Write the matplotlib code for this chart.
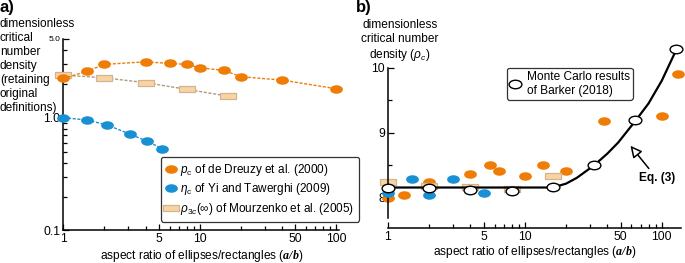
import matplotlib

matplotlib.use("Agg")
import matplotlib.pyplot as plt
from matplotlib.lines import Line2D
from matplotlib.path import Path
from matplotlib.ticker import FixedFormatter, FixedLocator, NullFormatter
from matplotlib.transforms import Affine2D

plt.rcParams["font.family"] = ["Liberation Sans", "DejaVu Sans"]
plt.rcParams["mathtext.fontset"] = "custom"
plt.rcParams["mathtext.rm"] = "Liberation Sans"
plt.rcParams["mathtext.it"] = "Liberation Sans:italic"
plt.rcParams["mathtext.bf"] = "Liberation Sans:bold"
plt.rcParams["mathtext.bfit"] = "Liberation Serif:italic:bold"

# panel a: values as published (different definitions)
a_dreuzy_x = [1, 1.5, 2, 4, 6, 8, 10, 15, 20, 40, 100]
a_dreuzy_y = [2.22, 2.58, 2.96, 3.12, 3.02, 2.96, 2.76, 2.62, 2.30, 2.15, 1.80]
a_yi_x = [1, 1.5, 2.1, 3.1, 4.1, 5.3]
a_yi_y = [1.0, 0.95, 0.86, 0.71, 0.62, 0.53]
a_mour_x = [1, 2, 4, 8, 16]
a_mour_y = [2.38, 2.25, 2.04, 1.78, 1.55]

# panel b: converted to rho_c
b_dreuzy_x = [1, 1.31, 2, 4, 5.6, 6.5, 10, 13.5, 20, 38, 100, 132]
b_dreuzy_y = [8.0, 8.04, 8.24, 8.36, 8.51, 8.42, 8.34, 8.51, 8.42, 9.18, 9.26, 9.90]
b_yi_x = [1, 1.5, 2, 3, 5]
b_yi_y = [8.07, 8.29, 8.05, 8.29, 8.07]
b_mour_x = [1, 2, 4, 8, 16]
b_mour_y = [8.25, 8.19, 8.17, 8.14, 8.33]
b_barker_x = [1, 2, 4, 8, 16, 32, 64, 128]
b_barker_y = [8.16, 8.15, 8.12, 8.10, 8.17, 8.50, 9.20, 10.28]
b_eq3_x = [1, 16, 20, 24, 32, 40, 48, 64, 80, 100, 128]
b_eq3_y = [8.16, 8.16, 8.22, 8.31, 8.50, 8.68, 8.85, 9.18, 9.45, 9.80, 10.28]

x_major = [1, 5, 10, 50, 100]
x_labels = ["1", "5", "10", "50", "100"]
x_minor = [2, 3, 4, 6, 7, 8, 9, 20, 30, 40, 60, 70, 80, 90]

ORANGE = "#ef7d05"
BLUE = "#1a90d4"
TAN_FACE = "#f8d3a4"
TAN_EDGE = "#d2b48e"
TAN_LINE = "#ad9a7c"

ellipse = Path.unit_circle().transformed(Affine2D().scale(1.5, 1.0))
rect = Path([(-1.25, -0.5), (1.25, -0.5), (1.25, 0.5), (-1.25, 0.5), (-1.25, -0.5)], closed=True)
dash = (0, (2.2, 1.2))

W, H = 685, 263
FS = 8.6


def fpos(x, y):
    return x / W, 1 - y / H


def style_axis(ax):
    for s in ("top", "right"):
        ax.spines[s].set_visible(False)
    for s in ("left", "bottom"):
        ax.spines[s].set_linewidth(1.1)
    ax.tick_params(which="both", direction="in", width=0.9, labelsize=8.8, pad=2)
    ax.tick_params(which="major", length=4)
    ax.tick_params(which="minor", length=2.8)
    ax.set_xscale("log")
    ax.xaxis.set_major_locator(FixedLocator(x_major))
    ax.xaxis.set_major_formatter(FixedFormatter(x_labels))
    ax.xaxis.set_minor_locator(FixedLocator(x_minor))
    ax.xaxis.set_minor_formatter(NullFormatter())


fig = plt.figure(figsize=(W / 100, H / 100), dpi=100)

# ---- panel a ----
ax = fig.add_axes([0.0924, 0.1236, 0.4029, 0.7293])
style_axis(ax)
ax.set_yscale("log")
ax.set_xlim(1, 105)
ax.set_ylim(0.1, 5)
ax.yaxis.set_major_locator(FixedLocator([0.1, 1, 5]))
ax.yaxis.set_major_formatter(FixedFormatter(["0.1", "1.0", "5.0"]))
ax.yaxis.set_minor_locator(FixedLocator([0.2, 0.3, 0.4, 0.5, 0.6, 0.7, 0.8, 0.9, 2, 3, 4]))
ax.yaxis.set_minor_formatter(NullFormatter())
ax.get_yticklabels()[2].set_fontsize(6)

ax.plot(a_mour_x, a_mour_y, color=TAN_LINE, lw=1.0, ls=dash, marker=rect, ms=11,
        mfc=TAN_FACE, mec=TAN_EDGE, mew=0.9, clip_on=False, zorder=3)
ax.plot(a_dreuzy_x, a_dreuzy_y, color=ORANGE, lw=1.0, ls=dash, marker=ellipse, ms=9.2,
        mfc=ORANGE, mec=ORANGE, mew=0, clip_on=False, zorder=4)
ax.plot(a_yi_x, a_yi_y, color=BLUE, lw=1.0, ls=dash, marker=ellipse, ms=9.2,
        mfc=BLUE, mec=BLUE, mew=0, clip_on=False, zorder=4)

handles = [
    Line2D([], [], ls="none", marker=ellipse, ms=9.2, mfc=ORANGE, mew=0),
    Line2D([], [], ls="none", marker=ellipse, ms=9.2, mfc=BLUE, mew=0),
    Line2D([], [], ls="none", marker=rect, ms=11, mfc=TAN_FACE, mec=TAN_EDGE, mew=0.9),
]
labels = [
    r"$p_\mathrm{c}$ of de Dreuzy et al. (2000)",
    r"$\eta_\mathrm{c}$ of Yi and Tawerghi (2009)",
    r"$\rho_{3c}(\infty)$ of Mourzenko et al. (2005)",
]
leg = ax.legend(handles, labels, loc="upper left", bbox_to_anchor=fpos(161, 157),
                bbox_transform=fig.transFigure, fontsize=8.5, frameon=True, fancybox=True,
                handlelength=0.9, handletextpad=0.35, labelspacing=0.3, borderpad=0.4,
                borderaxespad=0)
leg.get_frame().set_edgecolor("black")
leg.get_frame().set_linewidth(0.9)

ax.set_xlabel(r"aspect ratio of ellipses/rectangles ($\mathbfit{a/b}$)", fontsize=FS, labelpad=2)
fig.text(*fpos(0, 0), "a)", fontsize=12, fontweight="bold", va="top", ha="left")
fig.text(*fpos(0, 18), "dimensionless\ncritical\nnumber\ndensity\n(retaining\noriginal\ndefinitions)",
         fontsize=8.6, va="top", ha="left", linespacing=1.22)

# ---- panel b ----
bx = fig.add_axes([0.5664, 0.173, 0.4277, 0.570])
style_axis(bx)
bx.set_xlim(1, 138)
bx.set_ylim(7.7, 10)
bx.spines["bottom"].set_position(("outward", 7.5))
bx.yaxis.set_major_locator(FixedLocator([8, 9, 10]))
bx.yaxis.set_major_formatter(FixedFormatter(["8", "9", "10"]))
bx.yaxis.set_minor_locator(FixedLocator([8.5, 9.5]))
bx.yaxis.set_minor_formatter(NullFormatter())

bx.plot(b_dreuzy_x, b_dreuzy_y, ls="none", marker=ellipse, ms=9.2, mfc=ORANGE, mew=0,
        clip_on=False, zorder=2)
bx.plot(b_mour_x, b_mour_y, ls="none", marker=rect, ms=11, mfc=TAN_FACE, mec=TAN_EDGE,
        mew=0.9, clip_on=False, zorder=2)
bx.plot(b_yi_x, b_yi_y, ls="none", marker=ellipse, ms=9.2, mfc=BLUE, mew=0,
        clip_on=False, zorder=3)
bx.plot(b_eq3_x, b_eq3_y, color="black", lw=1.6, clip_on=False, zorder=4)
bx.plot(b_barker_x, b_barker_y, ls="none", marker=ellipse, ms=9.2, mfc="white", mec="black",
        mew=1.0, clip_on=False, zorder=5)

bx.annotate("Eq. (3)", xy=(59, 8.80), xytext=(92, 8.30), ha="center", va="center",
            fontsize=FS, fontweight="bold",
            arrowprops=dict(arrowstyle="-|>,head_length=0.8,head_width=0.4", fc="white",
                            ec="black", lw=1.1, shrinkA=1, shrinkB=0))

bleg = bx.legend([Line2D([], [], ls="none", marker=ellipse, ms=9.2, mfc="white", mec="black", mew=1.0)],
                 ["Monte Carlo results\nof Barker (2018)"], loc="upper left",
                 bbox_to_anchor=fpos(507, 68), bbox_transform=fig.transFigure, fontsize=FS,
                 frameon=True, fancybox=True, handlelength=0.9, handletextpad=0.5,
                 borderpad=0.25, borderaxespad=0)
bleg.get_frame().set_edgecolor("black")
bleg.get_frame().set_linewidth(0.9)

bx.set_xlabel(r"aspect ratio of ellipses/rectangles ($\mathbfit{a/b}$)", fontsize=FS, labelpad=1)
fig.text(*fpos(356, 0), "b)", fontsize=12, fontweight="bold", va="top", ha="left")
fig.text(*fpos(400, 19), "dimensionless\ncritical number\ndensity ($\\rho_c$)",
         fontsize=FS, va="top", ha="center", linespacing=1.18)

fig.savefig("out.png", dpi=100)
